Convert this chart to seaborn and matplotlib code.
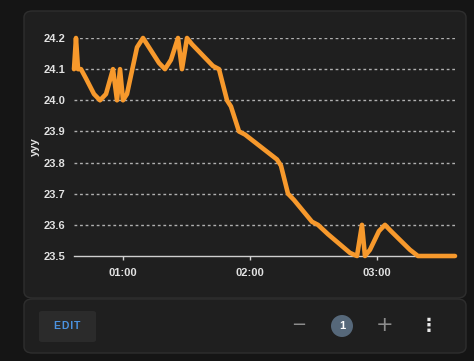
import matplotlib
matplotlib.use("Agg")
import matplotlib.pyplot as plt
import matplotlib.dates as mdates
from matplotlib.patches import FancyBboxPatch, Ellipse
import seaborn as sns
import pandas as pd

# readings (time of day, temperature)
times = ["00:37:00", "00:37:56", "00:38:54", "00:40:18", "00:42:40", "00:46:27",
         "00:49:17", "00:52:07", "00:55:25", "00:57:19", "00:58:44", "01:00:09",
         "01:02:02", "01:06:46", "01:09:36", "01:12:26", "01:17:09", "01:19:59",
         "01:22:49", "01:26:08", "01:28:01", "01:30:23", "01:32:44", "01:42:40",
         "01:45:30", "01:49:17", "01:51:10", "01:54:57", "01:57:47", "02:12:54",
         "02:14:47", "02:18:06", "02:20:56", "02:29:26", "02:32:16", "02:37:00",
         "02:47:23", "02:50:42", "02:53:03", "02:54:28", "02:56:50", "03:01:05",
         "03:03:55", "03:06:45", "03:15:43", "03:19:30", "03:37:00"]
values = [24.10, 24.20, 24.10, 24.10, 24.07, 24.02,
          24.00, 24.02, 24.10, 24.00, 24.10, 24.00,
          24.02, 24.17, 24.20, 24.17, 24.12, 24.10,
          24.13, 24.20, 24.10, 24.20, 24.18, 24.11,
          24.10, 24.00, 23.98, 23.90, 23.89, 23.81,
          23.79, 23.70, 23.68, 23.61, 23.60, 23.57,
          23.51, 23.50, 23.60, 23.50, 23.52, 23.58,
          23.60, 23.58, 23.52, 23.50, 23.50]
y_ticks = [23.5, 23.6, 23.7, 23.8, 23.9, 24.0, 24.1, 24.2]
y_label = "yyy"

df = pd.DataFrame({"time": pd.to_datetime(["2024-01-01 " + t for t in times]),
                   "value": values})

sns.set_theme(style="dark")
plt.rcParams["font.family"] = ["Liberation Sans", "DejaVu Sans"]

W, H = 474, 361
fig = plt.figure(figsize=(W / 100, H / 100), dpi=100)
fig.patch.set_facecolor("#151515")

def fx(px):
    return px / W

def fy(py):
    return 1 - py / H

# cards (behind the axes)
top_card = FancyBboxPatch((fx(24), fy(298)), fx(466) - fx(24), fy(11) - fy(298),
                          boxstyle="round,pad=0,rounding_size=0.018",
                          transform=fig.transFigure, fc="#1f1f1f", ec="#2e2e2e",
                          lw=1, zorder=-2)
bottom_card = FancyBboxPatch((fx(24), fy(353)), fx(466) - fx(24), fy(299) - fy(353),
                             boxstyle="round,pad=0,rounding_size=0.018",
                             transform=fig.transFigure, fc="#1f1f1f", ec="#2e2e2e",
                             lw=1, zorder=-2)
fig.patches.extend([top_card, bottom_card])

ax = fig.add_axes([fx(74), fy(256), fx(455) - fx(74), fy(38) - fy(256)])
ax.set_facecolor("none")

sns.lineplot(data=df, x="time", y="value", ax=ax, color="#f7992c", linewidth=3.3,
             solid_joinstyle="round", solid_capstyle="round", clip_on=False, zorder=3)

ax.set_xlim(df["time"].iloc[0], df["time"].iloc[-1])
ax.set_ylim(23.5, 24.2)
ax.set_yticks(y_ticks)
ax.set_yticklabels([f"{v:.1f}" for v in y_ticks])
ax.xaxis.set_major_locator(mdates.HourLocator())
ax.xaxis.set_major_formatter(mdates.DateFormatter("%H:%M"))

ax.grid(False)
for v in y_ticks[1:]:
    ax.axhline(v, color="#b0b0b0", lw=1, ls=(0, (2, 2)), zorder=1)

for side in ["top", "right", "left"]:
    ax.spines[side].set_visible(False)
ax.spines["bottom"].set_color("#cfcfcf")
ax.spines["bottom"].set_linewidth(1)

ax.tick_params(axis="y", length=0, pad=6, labelsize=8, labelcolor="#e2e2e2")
ax.tick_params(axis="x", length=3, width=1, color="#cfcfcf", pad=6,
               labelsize=8, labelcolor="#e2e2e2", bottom=True)
for lab in ax.get_xticklabels() + ax.get_yticklabels():
    lab.set_fontweight("bold")

ax.set_xlabel("")
ax.set_ylabel(y_label, color="#e2e2e2", fontsize=8, fontweight="bold", labelpad=3)

# footer controls
btn = FancyBboxPatch((fx(39), fy(342)), fx(96) - fx(39), fy(311) - fy(342),
                     boxstyle="round,pad=0,rounding_size=0.006",
                     transform=fig.transFigure, fc="#2b2b2b", ec="none", zorder=-1)
fig.patches.append(btn)
fig.text(fx(67), fy(326), "E D I T".replace(" ", "\u200a"), color="#4b92e0",
         fontsize=7.5, fontweight="bold", ha="center", va="center")
fig.text(fx(299), fy(325), "\u2212", color="#8c8c8c", fontsize=13,
         ha="center", va="center", family="DejaVu Sans")
circ = Ellipse((fx(342), fy(326)), 22 / W, 22 / H, transform=fig.transFigure,
               fc="#56687a", ec="none", zorder=-1)
fig.patches.append(circ)
fig.text(fx(342), fy(326), "1", color="#ffffff", fontsize=8, fontweight="bold",
         ha="center", va="center")
fig.text(fx(385), fy(325), "+", color="#8c8c8c", fontsize=15,
         ha="center", va="center", family="DejaVu Sans")
fig.text(fx(429), fy(326), "\u22ee", color="#e8e8e8", fontsize=13, fontweight="bold",
         ha="center", va="center", family="DejaVu Sans")

fig.savefig("out.png", dpi=100, facecolor=fig.get_facecolor())
